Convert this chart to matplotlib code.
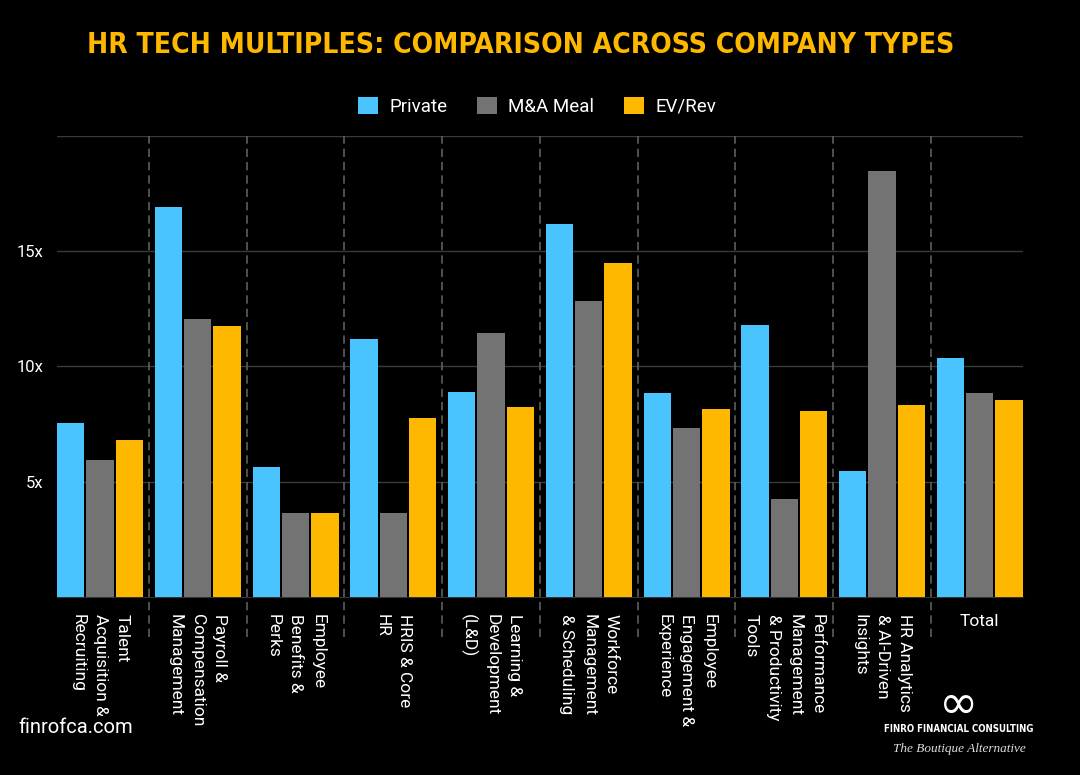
import matplotlib
matplotlib.use("Agg")
import matplotlib.pyplot as plt
import numpy as np
from matplotlib.patches import Patch

categories = [
    "Talent\nAcquisition &\nRecruiting",
    "Payroll &\nCompensation\nManagement",
    "Employee\nBenefits &\nPerks",
    "HRIS & Core\nHR",
    "Learning &\nDevelopment\n(L&D)",
    "Workforce\nManagement\n& Scheduling",
    "Employee\nEngagement &\nExperience",
    "Performance\nManagement\n& Productivity\nTools",
    "HR Analytics\n& AI-Driven\nInsights",
    "Total",
]
private = [7.55, 16.9, 5.65, 11.2, 8.9, 16.2, 8.85, 11.8, 5.45, 10.35]
ma_meal = [5.95, 12.05, 3.65, 3.65, 11.45, 12.85, 7.35, 4.25, 18.5, 8.85]
ev_rev = [6.8, 11.75, 3.65, 7.75, 8.25, 14.5, 8.15, 8.05, 8.35, 8.55]
series_names = ["Private", "M&A Meal", "EV/Rev"]
colors = ["#49C4FF", "#737373", "#FFB800"]
yticks = [5, 10, 15]
ytick_labels = ["5x", "10x", "15x"]

plt.rcParams["font.family"] = ["Roboto", "DejaVu Sans"]

fig = plt.figure(figsize=(10.8, 7.75), dpi=100, facecolor="black")
ax = fig.add_axes([0.0528, 0.2297, 0.8942, 0.5948])
ax.set_facecolor("black")

x = np.arange(len(categories))
w = 0.28
step = 0.3
for j, (vals, c, name) in enumerate(zip([private, ma_meal, ev_rev], colors, series_names)):
    ax.bar(x + (j - 1) * step, vals, width=w, color=c, label=name, zorder=3)

ax.set_xlim(-0.44, len(categories) - 1 + 0.44)
ax.set_ylim(0, 20)
ax.set_yticks(yticks)
ax.set_yticklabels(ytick_labels, color="white", fontsize=12)
ax.tick_params(axis="y", length=0, pad=10)
ax.yaxis.grid(True, color="#3a3a3a", linewidth=1, zorder=0)
ax.axhline(20, color="#3a3a3a", linewidth=1, zorder=0)
for s in ["top", "right", "left"]:
    ax.spines[s].set_visible(False)
ax.spines["bottom"].set_color("#333333")

# separators
for i in range(len(categories) - 1):
    ax.plot([i + 0.5, i + 0.5], [-1.75, 20], color="#5e5e5e", linestyle=(0, (5, 3)),
            linewidth=1.2, clip_on=False, zorder=4)

ax.set_xticks(x)
ax.set_xticklabels(categories, color="white", fontsize=12.5, rotation=270,
                   va="top", ha="center", linespacing=1.6)
ax.tick_params(axis="x", length=0, pad=12)
for lb in ax.get_xticklabels():
    lb.set_multialignment("left")
total_lbl = ax.get_xticklabels()[-1]
total_lbl.set_rotation(0)

title = fig.text(0.4824, 0.942, "HR TECH MULTIPLES: COMPARISON ACROSS COMPANY TYPES",
                 color="#FFB800", fontsize=24, fontweight="bold", ha="center", va="center",
                 family=["DejaVu Sans"], fontstretch="condensed")

handles = [Patch(facecolor=c, edgecolor="none", label=n) for c, n in zip(colors, series_names)]
leg = fig.legend(handles=handles, loc="center", bbox_to_anchor=(0.4972, 0.863), ncol=3,
                 frameon=False, fontsize=13.5, handlelength=1.05, handleheight=1.05,
                 handletextpad=0.6, columnspacing=1.6)
for t in leg.get_texts():
    t.set_color("white")

fig.text(0.017, 0.061, "finrofca.com", color="white", fontsize=14.5, ha="left", va="center")
fig.text(0.888, 0.09, "∞", color="white", fontsize=34, ha="center", va="center",
         family=["DejaVu Sans"])
brand = fig.text(0.888, 0.059, "FINRO FINANCIAL CONSULTING", color="white", fontsize=10.5,
                 fontweight="bold", ha="center", va="center",
                 family=["DejaVu Sans"], fontstretch="condensed")
fig.text(0.888, 0.033, "The Boutique Alternative", color="#dddddd", fontsize=9.5,
         style="italic", ha="center", va="center", family=["Liberation Serif", "DejaVu Serif"])

# fit condensed texts to their widths in the reference
fig.canvas.draw()
r = fig.canvas.get_renderer()
for txt, target in [(title, 867), (brand, 152)]:
    wpx = txt.get_window_extent(r).width
    txt.set_fontsize(txt.get_fontsize() * target / wpx)

fig.savefig("out.png", dpi=100, facecolor="black")
